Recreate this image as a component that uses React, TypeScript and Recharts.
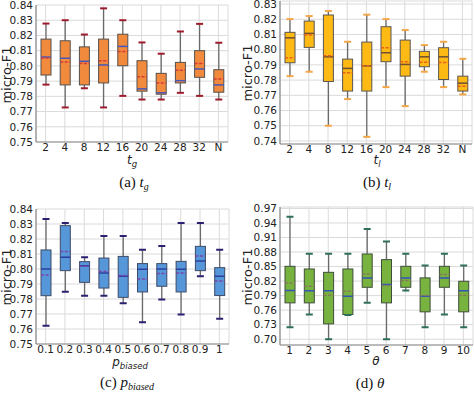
import React from 'react';
import { ComposedChart, Bar, XAxis, YAxis, CartesianGrid } from 'recharts';

// ---------- data ----------
const catsA = ['2', '4', '8', '12', '16', '20', '24', '28', '32', 'N'];
const lowA = [0.7877, 0.7727, 0.7853, 0.7727, 0.7803, 0.7779, 0.7779, 0.7823, 0.7803, 0.7779];
const q1A = [0.794, 0.7875, 0.7875, 0.7888, 0.8001, 0.7834, 0.7814, 0.7888, 0.7925, 0.7827];
const medA = [0.8058, 0.805, 0.803, 0.8006, 0.8128, 0.7849, 0.7823, 0.7903, 0.798, 0.7875];
const meanA = [0.8052, 0.8025, 0.8016, 0.8034, 0.8095, 0.7929, 0.7888, 0.7971, 0.8016, 0.7914];
const q3A = [0.8176, 0.8165, 0.8125, 0.8176, 0.8208, 0.8034, 0.7951, 0.8023, 0.81, 0.7975];
const highA = [0.8278, 0.83, 0.8206, 0.8378, 0.83, 0.8154, 0.808, 0.8226, 0.8276, 0.8152];
const ticksA = [0.75, 0.76, 0.77, 0.78, 0.79, 0.8, 0.81, 0.82, 0.83, 0.84];

const catsB = ['2', '4', '8', '12', '16', '20', '24', '28', '32', 'N'];
const lowB = [0.7826, 0.7855, 0.75, 0.7675, 0.7427, 0.7754, 0.7629, 0.7855, 0.7754, 0.7706];
const q1B = [0.7914, 0.8015, 0.7791, 0.7728, 0.7728, 0.7921, 0.7826, 0.7888, 0.7804, 0.7728];
const medB = [0.8078, 0.8107, 0.7953, 0.7877, 0.7894, 0.798, 0.7903, 0.7953, 0.7953, 0.778];
const meanB = [0.7947, 0.8096, 0.796, 0.7848, 0.7894, 0.8013, 0.7921, 0.7918, 0.7916, 0.776];
const q3B = [0.8114, 0.8188, 0.8228, 0.7938, 0.805, 0.8151, 0.8063, 0.7989, 0.8013, 0.7826];
const highB = [0.8201, 0.8221, 0.8254, 0.8052, 0.823, 0.8201, 0.8129, 0.803, 0.8052, 0.794];
const ticksB = [0.74, 0.75, 0.76, 0.77, 0.78, 0.79, 0.8, 0.81, 0.82, 0.83];

const catsC = ['0.1', '0.2', '0.3', '0.4', '0.5', '0.6', '0.7', '0.8', '0.9', '1'];
const lowC = [0.7622, 0.7849, 0.7822, 0.7822, 0.7771, 0.7645, 0.7796, 0.7696, 0.7951, 0.7669];
const q1C = [0.7822, 0.7989, 0.7911, 0.7873, 0.7811, 0.7847, 0.7885, 0.7847, 0.7989, 0.7823];
const medC = [0.8, 0.8078, 0.8022, 0.7973, 0.7951, 0.7998, 0.8, 0.7998, 0.8053, 0.7951];
const meanC = [0.796, 0.8116, 0.8018, 0.7984, 0.7956, 0.7933, 0.797, 0.7973, 0.8087, 0.792];
const q3C = [0.8127, 0.8289, 0.8049, 0.8073, 0.8084, 0.8036, 0.8036, 0.8051, 0.8151, 0.8009];
const highC = [0.8333, 0.8307, 0.8078, 0.822, 0.822, 0.8129, 0.8153, 0.8307, 0.8307, 0.8129];
const ticksC = [0.75, 0.76, 0.77, 0.78, 0.79, 0.8, 0.81, 0.82, 0.83, 0.84];

const catsD = ['1', '2', '3', '4', '5', '6', '7', '8', '9', '10'];
const lowD = [0.7248, 0.751, 0.7, 0.75, 0.775, 0.7, 0.8004, 0.7248, 0.751, 0.7248];
const q1D = [0.775, 0.775, 0.7317, 0.751, 0.8072, 0.775, 0.8072, 0.7565, 0.8072, 0.7565];
const medD = [0.8004, 0.8, 0.8, 0.7887, 0.8266, 0.8127, 0.8266, 0.7887, 0.8266, 0.8];
const meanD = [0.8162, 0.8093, 0.7907, 0.799, 0.8348, 0.811, 0.821, 0.79, 0.8334, 0.7907];
const q3D = [0.8505, 0.845, 0.8381, 0.845, 0.876, 0.8643, 0.8505, 0.8266, 0.8505, 0.8196];
const highD = [0.9529, 0.8766, 0.8766, 0.8766, 0.9275, 0.902, 0.8766, 0.852, 0.8766, 0.852];
const ticksD = [0.7, 0.73, 0.76, 0.79, 0.82, 0.85, 0.88, 0.91, 0.94, 0.97];

// ---------- helpers ----------
function makeData(cats: string[], low: number[], q1: number[], med: number[], mean: number[], q3: number[], high: number[]) {
  return cats.map((c, i) => ({
    cat: c,
    range: [low[i], high[i]],
    low: low[i],
    q1: q1[i],
    med: med[i],
    mean: mean[i],
    q3: q3[i],
    high: high[i],
  }));
}

type BoxStyle = { fill: string; edge: string; whisker: string; cap: string; median: string; mean: string };

const styleA: BoxStyle = { fill: '#F28A3E', edge: '#55504c', whisker: '#6a6a6a', cap: '#9E1B2E', median: '#4557B8', mean: '#D33A3A' };
const styleB: BoxStyle = { fill: '#FDB914', edge: '#5a5652', whisker: '#6a6a6a', cap: '#F3A646', median: '#6E5034', mean: '#E8611C' };
const styleC: BoxStyle = { fill: '#5697DA', edge: '#3d4a66', whisker: '#6a6a6a', cap: '#2A2170', median: '#2D3F9E', mean: '#7B45A8' };
const styleD: BoxStyle = { fill: '#79B33F', edge: '#3f4e3a', whisker: '#6a6a6a', cap: '#2E6E5A', median: '#3355B5', mean: '#857A58' };

function makeBoxShape(st: BoxStyle) {
  return (props: any) => {
    const { x, y, width, height, payload } = props;
    if (payload == null) return <g />;
    const top = Math.min(y, y + height);
    const bottom = Math.max(y, y + height);
    const { low, high } = payload;
    const py = (v: number) => bottom - ((v - low) / (high - low)) * (bottom - top);
    const cx = x + width / 2;
    const bw = width;
    const cw = 7;
    const yq1 = py(payload.q1);
    const yq3 = py(payload.q3);
    return (
      <g>
        <line x1={cx} x2={cx} y1={py(high)} y2={yq3} stroke={st.whisker} strokeWidth={1.3} />
        <line x1={cx} x2={cx} y1={yq1} y2={py(low)} stroke={st.whisker} strokeWidth={1.3} />
        <rect x={cx - bw / 2} y={yq3} width={bw} height={Math.max(0.5, yq1 - yq3)} fill={st.fill} stroke={st.edge} strokeWidth={1} />
        <line x1={cx - bw / 2} x2={cx + bw / 2} y1={py(payload.med)} y2={py(payload.med)} stroke={st.median} strokeWidth={1.5} />
        <line x1={cx - bw / 2} x2={cx + bw / 2} y1={py(payload.mean)} y2={py(payload.mean)} stroke={st.mean} strokeWidth={1.5} strokeDasharray="3 1.5" />
        <line x1={cx - cw / 2} x2={cx + cw / 2} y1={py(high)} y2={py(high)} stroke={st.cap} strokeWidth={2} />
        <line x1={cx - cw / 2} x2={cx + cw / 2} y1={py(low)} y2={py(low)} stroke={st.cap} strokeWidth={2} />
      </g>
    );
  };
}

const tickStyle = { fontSize: 10.5, fill: '#222', fontFamily: 'DejaVu Sans' };
const frame = { stroke: '#8a8a8a', strokeWidth: 1.2 };

type PanelProps = {
  data: any[];
  ticks: number[];
  domain: [number, number];
  style: BoxStyle;
  margin: { top: number; right: number; left: number; bottom: number };
  yWidth: number;
  xHeight: number;
  digits: number;
};

function Panel(p: PanelProps) {
  return (
    <ComposedChart width={237} height={197} data={p.data} margin={p.margin}>
      <CartesianGrid stroke="#dadada" strokeWidth={1} />
      <XAxis
        dataKey="cat"
        interval={0}
        tickLine={false}
        tickSize={0}
        tickMargin={2}
        height={p.xHeight}
        axisLine={frame}
        tick={tickStyle}
      />
      <XAxis xAxisId="top" dataKey="cat" orientation="top" height={0} tick={false} tickLine={false} axisLine={frame} />
      <YAxis
        type="number"
        domain={p.domain}
        ticks={p.ticks}
        allowDataOverflow
        interval={0}
        tickFormatter={(v: number) => v.toFixed(p.digits)}
        width={p.yWidth}
        tickLine={false}
        tickSize={0}
        tickMargin={3}
        axisLine={frame}
        tick={tickStyle}
      />
      <YAxis yAxisId="right" orientation="right" type="number" domain={p.domain} width={0} tick={false} tickLine={false} axisLine={frame} />
      <Bar dataKey="range" barSize={10} isAnimationActive={false} shape={makeBoxShape(p.style)} />
    </ComposedChart>
  );
}

const dataA = makeData(catsA, lowA, q1A, medA, meanA, q3A, highA);
const dataB = makeData(catsB, lowB, q1B, medB, meanB, q3B, highB);
const dataC = makeData(catsC, lowC, q1C, medC, meanC, q3C, highC);
const dataD = makeData(catsD, lowD, q1D, medD, meanD, q3D, highD);

const sans = 'DejaVu Sans';
const serif = 'Liberation Serif';

export default function App() {
  return (
    <div style={{ position: 'absolute', left: 0, top: 0, width: 474, height: 394, background: '#fff', overflow: 'hidden' }}>
      <div style={{ position: 'absolute', left: 0, top: 0 }}>
        <Panel data={dataA} ticks={ticksA} domain={[0.75, 0.84]} style={styleA} margin={{ top: 5, right: 9, left: 0, bottom: 0 }} yWidth={36} xHeight={55} digits={2} />
      </div>
      <div style={{ position: 'absolute', left: 237, top: 0 }}>
        <Panel data={dataB} ticks={ticksB} domain={[0.738, 0.832]} style={styleB} margin={{ top: 1, right: 2, left: 0, bottom: 0 }} yWidth={43} xHeight={53} digits={2} />
      </div>
      <div style={{ position: 'absolute', left: 0, top: 197 }}>
        <Panel data={dataC} ticks={ticksC} domain={[0.75, 0.84]} style={styleC} margin={{ top: 12, right: 8, left: 0, bottom: 0 }} yWidth={36} xHeight={50} digits={2} />
      </div>
      <div style={{ position: 'absolute', left: 237, top: 197 }}>
        <Panel data={dataD} ticks={ticksD} domain={[0.688, 0.973]} style={styleD} margin={{ top: 10, right: 1, left: 0, bottom: 0 }} yWidth={43} xHeight={49} digits={2} />
      </div>
      <svg width={474} height={394} style={{ position: 'absolute', left: 0, top: 0, pointerEvents: 'none' }}>
        {/* y labels */}
        <text transform="translate(11,75) rotate(-90)" textAnchor="middle" fontFamily={sans} fontSize={13} fill="#222">micro-F1</text>
        <text transform="translate(252,73) rotate(-90)" textAnchor="middle" fontFamily={sans} fontSize={13} fill="#222">micro-F1</text>
        <text transform="translate(11,277) rotate(-90)" textAnchor="middle" fontFamily={sans} fontSize={13} fill="#222">micro-F1</text>
        <text transform="translate(252,277) rotate(-90)" textAnchor="middle" fontFamily={sans} fontSize={13} fill="#222">micro-F1</text>
        {/* x labels */}
        <text x={132} y={164} textAnchor="middle" fontFamily={sans} fontSize={12} fill="#222">
          <tspan fontStyle="italic">t</tspan>
          <tspan fontStyle="italic" fontSize={8.5} dy={2.5}>g</tspan>
        </text>
        <text x={377} y={164} textAnchor="middle" fontFamily={sans} fontSize={12} fill="#222">
          <tspan fontStyle="italic">t</tspan>
          <tspan fontStyle="italic" fontSize={8.5} dy={2.5}>l</tspan>
        </text>
        <text x={130} y={366} textAnchor="middle" fontFamily={sans} fontSize={12} fill="#222">
          <tspan fontStyle="italic">p</tspan>
          <tspan fontStyle="italic" fontSize={8.5} dy={2.5}>biased</tspan>
        </text>
        <text x={376} y={365} textAnchor="middle" fontFamily={sans} fontSize={12} fill="#222">
          <tspan fontStyle="italic">θ</tspan>
        </text>
        {/* captions */}
        <text x={134} y={187} textAnchor="middle" fontFamily={serif} fontSize={15} fill="#111">
          <tspan>(a) </tspan>
          <tspan fontStyle="italic">t</tspan>
          <tspan fontStyle="italic" fontSize={10} dy={3}>g</tspan>
        </text>
        <text x={377} y={187} textAnchor="middle" fontFamily={serif} fontSize={15} fill="#111">
          <tspan>(b) </tspan>
          <tspan fontStyle="italic">t</tspan>
          <tspan fontStyle="italic" fontSize={10} dy={3}>l</tspan>
        </text>
        <text x={127} y={387} textAnchor="middle" fontFamily={serif} fontSize={15} fill="#111">
          <tspan>(c) </tspan>
          <tspan fontStyle="italic">p</tspan>
          <tspan fontStyle="italic" fontSize={10} dy={3}>biased</tspan>
        </text>
        <text x={370} y={388} textAnchor="middle" fontFamily={serif} fontSize={15} fill="#111">
          <tspan>(d) </tspan>
          <tspan fontStyle="italic">θ</tspan>
        </text>
      </svg>
    </div>
  );
}
